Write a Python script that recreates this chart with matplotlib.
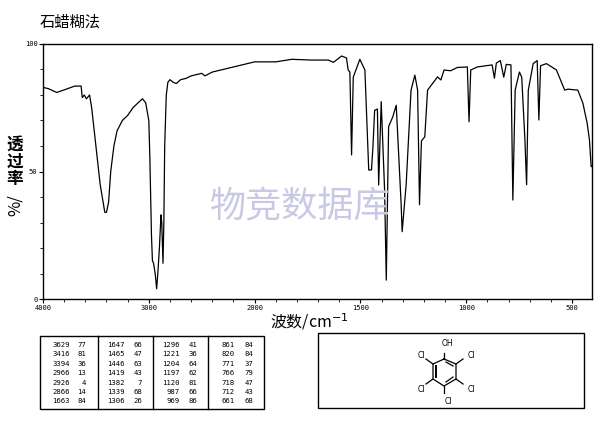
import numpy as np
import matplotlib.pyplot as plt
from matplotlib.ticker import FixedLocator

plt.rcParams['font.family'] = ['Noto Sans CJK SC', 'DejaVu Sans']

# spectrum (wavenumber cm-1, transmittance %)
wavenumber = [4000, 3950, 3870, 3800, 3700, 3640, 3629, 3610, 3590, 3560, 3540, 3500, 3460, 3416,
              3400, 3380, 3360, 3330, 3300, 3250, 3200, 3150, 3100, 3060, 3030, 3000, 2990, 2975,
              2966, 2955, 2940, 2926, 2915, 2900, 2885, 2878, 2870, 2866, 2858, 2850, 2835, 2820,
              2800, 2770, 2740, 2700, 2650, 2600, 2550, 2500, 2470, 2400, 2300, 2200, 2100, 2000,
              1900, 1824, 1730, 1652, 1628, 1589, 1566, 1558, 1550, 1542, 1534, 1503, 1479, 1461,
              1448, 1441, 1433, 1420, 1414, 1402, 1386, 1378, 1367, 1347, 1331, 1308, 1303, 1284,
              1261, 1243, 1230, 1221, 1212, 1196, 1183, 1136, 1120, 1105, 1074, 1042, 995, 987,
              979, 948, 878, 867, 858, 839, 823, 811, 789, 780, 769, 749, 738, 723, 715, 707, 684,
              665, 657, 649, 621, 574, 535, 520, 473, 449, 429, 418, 410, 406]
transmittance = [83, 82.5, 81, 82, 83.5, 83.5, 79, 80, 78.5, 80, 75, 60, 45, 34,
                 34, 38, 50, 60, 66, 70, 72, 75, 77, 78.5, 77, 70, 55, 25,
                 15, 14, 10, 4, 10, 20, 33, 30, 20, 14, 30, 60, 80, 85,
                 86, 85, 84.5, 86, 86.5, 87.5, 88, 88.5, 87.5, 89, 90, 91, 92, 93,
                 93, 94, 93.7, 93.7, 92.8, 95.3, 94.5, 89.8, 89, 56.5, 87, 94, 89.8, 50.6,
                 50.6, 59.7, 74, 74.5, 44.7, 77.4, 42.7, 7.4, 67.6, 71.5, 76, 37.5, 26.4, 45,
                 81.9, 87.8, 81.9, 37, 62, 63.6, 81.9, 87.1, 85.9, 89.8, 89.5, 90.8, 91, 69.5,
                 89.8, 91, 91.8, 86.6, 92.5, 93.5, 87, 92, 91.8, 38.8, 81.9, 89, 87, 62.4, 44.8, 81.9, 92.3,
                 93.5, 70.2, 91.5, 92.3, 89.8, 81.9, 82.3, 81.9, 76.8, 69, 62.4, 51.9, 52]

# peak table
peak_wn = [3629, 3416, 3394, 2966, 2926, 2866, 1663,
           1647, 1465, 1446, 1419, 1382, 1339, 1306,
           1296, 1221, 1204, 1197, 1120, 987, 969,
           861, 820, 771, 766, 718, 712, 661]
peak_t = [77, 81, 36, 13, 4, 14, 84,
          66, 47, 63, 43, 7, 68, 26,
          41, 36, 64, 62, 81, 66, 86,
          84, 84, 37, 79, 47, 43, 68]

x_ticks = [4000, 3000, 2000, 1500, 1000, 500]


def to_u(w):
    # split scale: 1000 cm-1 per unit above 2000, 500 per unit below
    w = np.asarray(w, dtype=float)
    return np.where(w >= 2000, (4000 - w) / 1000, 2 + (2000 - w) / 500)


W, H = 601, 425
fig = plt.figure(figsize=(W / 100, H / 100), dpi=100)
ax = fig.add_axes([43 / W, 1 - 299 / H, (592 - 43) / W, 255 / H])
ax.plot(to_u(wavenumber), transmittance, color='black', lw=0.9)
ax.set_xlim(0, float(to_u(406)))
ax.set_ylim(0, 100)
ax.set_xticks(to_u(x_ticks))
ax.set_xticklabels([str(t) for t in x_ticks], fontsize=5, family='DejaVu Sans Mono')
ax.xaxis.set_minor_locator(FixedLocator(np.arange(0, 5.2, 0.2)))
ax.set_yticks([0, 50, 100])
ax.set_yticklabels(['0', '50', '100'], fontsize=5, family='DejaVu Sans Mono')
ax.yaxis.set_minor_locator(FixedLocator(np.arange(0, 101, 10)))
ax.tick_params(direction='out', length=3, width=0.8, pad=1)
ax.tick_params(which='minor', direction='out', length=2, width=0.6)
for s in ax.spines.values():
    s.set_linewidth(1)

fig.text(40 / W, 1 - 22 / H, '石蜡糊法', fontsize=11, va='center')
fig.text(15 / W, 1 - 162 / H, '透\n过\n率', fontsize=12, va='center', ha='center',
         linespacing=0.95, fontweight='bold')
fig.text(15 / W, 1 - 205 / H, '%/', fontsize=12, va='center', ha='center', rotation=90)
fig.text(270 / W, 1 - 322 / H, '波数/cm$^{-1}$', fontsize=11.5, va='center')
fig.text(300 / W, 1 - 208 / H, '物竞数据库', fontsize=26, color='#c9c9e6',
         va='center', ha='center')

# peak table box
tab = fig.add_axes([0, 0, 1, 1], facecolor='none')
tab.set_xlim(0, W)
tab.set_ylim(H, 0)
tab.axis('off')
tab.add_patch(plt.Rectangle((40, 336), 224, 73, fill=False, lw=1))
for xd in [98, 153, 208]:
    tab.plot([xd, xd], [336, 409], color='black', lw=1)
col_wn_x = [70, 125, 180, 235]
col_t_x = [86, 142, 197, 253]
for i, (w, t) in enumerate(zip(peak_wn, peak_t)):
    c, r = divmod(i, 7)
    y = 345 + r * 9.4
    tab.text(col_wn_x[c], y, str(w), fontsize=5.2, ha='right', va='center', family='DejaVu Sans Mono')
    tab.text(col_t_x[c], y, str(t), fontsize=5.2, ha='right', va='center', family='DejaVu Sans Mono')

# structure box: pentachlorophenol
tab.add_patch(plt.Rectangle((318, 333), 266, 75, fill=False, lw=1))
hx = [444, 456, 456, 444, 433, 433, 444]
hy = [359, 364, 379, 386, 379, 364, 359]
tab.plot(hx, hy, color='black', lw=0.9)
tab.plot([446, 453], [362, 366], color='black', lw=0.9)
tab.plot([453, 446], [377, 382], color='black', lw=0.9)
tab.plot([435.5, 435.5], [366, 377], color='black', lw=1.4)
for (x1, y1, x2, y2) in [(444, 359, 444, 353), (456, 364, 463, 359), (456, 379, 463, 384),
                         (444, 386, 444, 393), (433, 379, 426, 384), (433, 364, 426, 359)]:
    tab.plot([x1, x2], [y1, y2], color='black', lw=0.9)
for (x, y, s) in [(447, 343, 'OH'), (421, 355, 'Cl'), (471, 355, 'Cl'), (421, 389, 'Cl'),
                  (471, 389, 'Cl'), (448, 401, 'Cl')]:
    tab.text(x, y, s, fontsize=5.5, ha='center', va='center', family='DejaVu Sans')

fig.savefig('out.png', dpi=100)
